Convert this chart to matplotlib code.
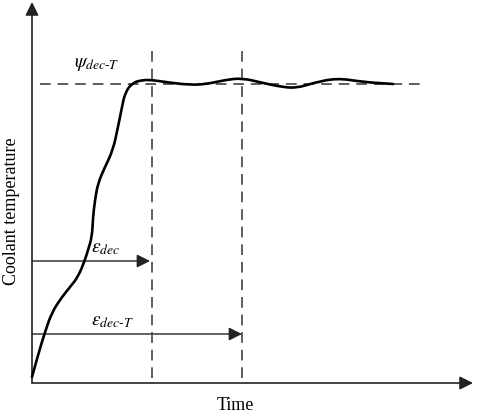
import numpy as np
import matplotlib
matplotlib.use('Agg')
import matplotlib.pyplot as plt
from matplotlib.path import Path
from matplotlib.patches import PathPatch, FancyArrowPatch

plt.rcParams['font.family'] = ['Liberation Serif', 'DejaVu Serif']
plt.rcParams['mathtext.fontset'] = 'stix'

# coolant temperature curve (time, temperature)
time = [0, 6, 13, 20, 30, 38, 46, 53, 56, 60, 61, 63, 66, 73, 81, 86, 90, 93, 100,
        110, 120, 133, 158, 175, 193, 210, 231, 250, 265, 281, 305, 331, 361]
temp = [6, 28, 51, 71, 86, 96, 106, 123, 133, 146, 166, 183, 200, 216, 233, 256, 276,
        290, 300, 303, 303, 301, 298, 299, 303, 305, 300, 296, 295, 300, 305, 301, 299]

psi_level = 299          # steady value
psi_span = [8, 388]
t_dec = 118              # end of eps_dec arrow
t_dec_T = 210            # end of eps_dec-T arrow
vlines_t = [120, 210]
vline_span = [5, 333]
arrow_levels = [122, 49]
labels = [r'$\varepsilon_{dec}$', r'$\varepsilon_{dec\text{-}T}$']

fig = plt.figure(figsize=(4.8, 4.15), dpi=100)
ax = fig.add_axes([0, 0, 1, 1])
ax.set_xlim(-32, 448)
ax.set_ylim(-32, 383)
ax.axis('off')

# axes with arrow heads
ax.add_patch(FancyArrowPatch((0, 0), (441, 0), arrowstyle='-|>', mutation_scale=20,
                             lw=1.2, color='#222222', shrinkA=0, shrinkB=0))
ax.add_patch(FancyArrowPatch((0, 0), (0, 381), arrowstyle='-|>', mutation_scale=20,
                             lw=1.2, color='#222222', shrinkA=0, shrinkB=0))

# smooth curve through the read points
pts = np.column_stack([time, temp]).astype(float)
verts = [pts[0]]
codes = [Path.MOVETO]
for i in range(1, len(pts) - 1):
    mid = (pts[i] + pts[i + 1]) / 2
    verts += [pts[i], mid]
    codes += [Path.CURVE3, Path.CURVE3]
verts.append(pts[-1])
codes.append(Path.LINETO)
ax.add_patch(PathPatch(Path(verts, codes), fill=False, lw=1.9, color='black',
                       capstyle='round', joinstyle='round', zorder=3))

dash = (0, (7, 4.5))
ax.plot(psi_span, [psi_level, psi_level], color='#333333', lw=1.1, linestyle=dash)
for t in vlines_t:
    ax.plot([t, t], vline_span, color='#333333', lw=1.1, linestyle=dash)

for lvl, t_end, lab in zip(arrow_levels, [t_dec, t_dec_T], labels):
    ax.add_patch(FancyArrowPatch((0, lvl), (t_end, lvl), arrowstyle='-|>',
                                 mutation_scale=20, lw=1.0, color='#222222',
                                 shrinkA=0, shrinkB=0))
    ax.text(59, lvl + 4, lab, fontsize=14, ha='left', va='bottom')

ax.text(42, 310, r'$\psi_{dec\text{-}T}$', fontsize=14, ha='left', va='bottom')

ax.text(203, -22, 'Time', fontsize=13, ha='center', va='center')
ax.text(-20, 172, 'Coolant temperature', fontsize=13, ha='center', va='center',
        rotation=90)

fig.savefig('out.png', dpi=100)
